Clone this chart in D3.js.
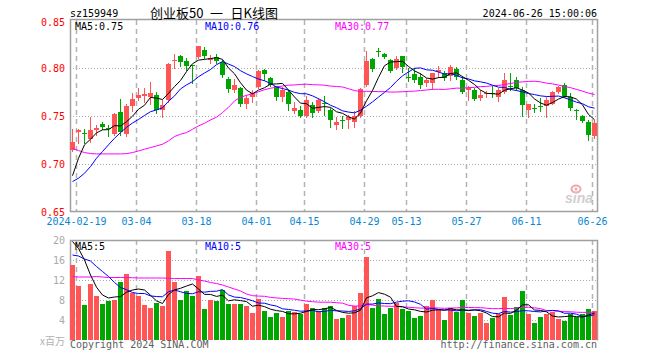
<!DOCTYPE html>
<html><head><meta charset="utf-8">
<script src="https://cdn.jsdelivr.net/npm/d3@7"></script>
<style>body{margin:0;background:#fff}svg{display:block}</style>
</head><body>
<svg id="c" width="660" height="360"></svg>
<script>
// ---- data ----
const symbol = "sz159949";
const titleParts = ["创业板50", "一", "日K线图"];
const stamp = "2024-06-26 15:00:06";
const open  = [.715,.733,.732,.726,.735,.742,.737,.731,.754,.731, .760,.769,.771,.770,.772,.756,.767,.808,.812,.807,
               .803,.811,.819,.808,.811,.806,.789,.777,.779,.762, .770,.780,.798,.790,.781,.770,.775,.755,.756,.750,
               .761,.755,.764,.756,.741,.746,.746,.744,.750,.782, .809,.818,.815,.808,.800,.812,.791,.794,.791,.784,
               .784,.796,.795,.792,.799,.788,.777,.777,.769,.773, .774,.770,.775,.781,.788,.777,.756,.758,.760,.760,
               .763,.775,.782,.770,.756,.750,.744,.729];
const high  = [.736,.736,.736,.749,.741,.744,.741,.753,.768,.762, .774,.779,.779,.785,.775,.767,.805,.815,.814,.810,
               .803,.823,.822,.814,.815,.808,.791,.789,.780,.772, .777,.798,.799,.791,.781,.780,.777,.765,.760,.771,
               .765,.769,.771,.758,.749,.750,.751,.755,.779,.818, .810,.821,.816,.809,.813,.812,.800,.800,.795,.790,
               .795,.802,.797,.803,.801,.792,.781,.779,.777,.776, .781,.779,.795,.795,.791,.780,.763,.762,.769,.770,
               .776,.781,.784,.774,.757,.751,.746,.746];
const low   = [.714,.722,.722,.723,.730,.736,.729,.730,.730,.729, .755,.767,.765,.763,.753,.749,.765,.800,.802,.798,
               .784,.810,.810,.805,.805,.791,.775,.775,.760,.758, .765,.779,.788,.781,.767,.766,.756,.753,.749,.749,
               .749,.754,.751,.739,.736,.737,.738,.739,.749,.781, .797,.812,.810,.796,.799,.796,.786,.785,.779,.781,
               .778,.791,.788,.788,.789,.774,.767,.767,.767,.770, .770,.766,.774,.777,.777,.750,.749,.754,.755,.749,
               .762,.774,.770,.756,.747,.744,.725,.727];
const close = [.723,.735,.731,.735,.738,.739,.736,.752,.733,.760, .768,.772,.773,.774,.756,.761,.804,.808,.806,.802,
               .802,.823,.812,.810,.807,.793,.778,.782,.763,.769, .774,.797,.794,.782,.770,.777,.762,.758,.750,.767,
               .753,.767,.762,.746,.744,.745,.749,.750,.778,.807, .799,.817,.811,.797,.809,.801,.790,.788,.782,.787,
               .795,.798,.790,.801,.791,.775,.779,.768,.772,.774, .773,.777,.788,.780,.779,.761,.762,.757,.759,.767,
               .775,.780,.770,.758,.755,.745,.730,.743];
// volume, millions
const volume = [15.0,10.8,7.0,11.2,8.8,7.2,7.8,8.0,11.6,13.2, 9.4,8.8,7.0,6.4,7.5,6.8,17.8,11.6,8.0,9.8,
                8.8,12.8,6.2,8.0,7.8,10.0,7.2,7.2,7.2,6.8, 5.4,8.2,5.8,4.6,5.4,4.6,5.9,5.6,5.3,7.2,
                6.4,5.8,6.4,6.8,4.2,4.4,5.0,6.8,9.4,16.6, 6.4,8.2,5.2,6.4,7.4,6.2,5.8,4.4,4.8,6.8,
                8.0,6.2,4.0,6.4,5.6,8.0,5.4,4.8,5.4,3.4, 4.4,5.2,8.6,5.0,6.6,9.8,5.2,3.4,4.6,5.2,
                5.6,4.2,3.8,5.2,4.6,5.2,6.2,5.8];
// moving-average values before a full window is visible
const ma5Head  = [.6878,.706,.72,.7258];
const ma10Head = [.6817,.6852,.6904,.6973,.706,.713,.72,.7268,.7327];
const ma30Head = [.7164,.714,.7119,.7109,.7105,.7105,.7105,.7105,.7105,.7108,.7119,.7136,.7154,.7171,.7188,
                  .7206,.7241,.7286,.731,.7327,.7362,.7397,.7424,.7459,.7487,.7536,.7591,.7657,.7695];
const vma5Head  = [19.7,18.3,16,13];
const vma10Head = [17,16.8,16.2,15.8,14.7,13.7,12.7,11.5,10.5];
const vma30Head = [12.67,12.6,12.6,12.6,12.7,12.6,12.5,12.5,12.5,12.5,12.45,12.4,12.4,12.4,12.4,
                   12.4,12.35,12.3,12.3,12.3,12.3,12.0,11.8,11.5,11.3,11.0,10.6,10.2,9.8];
const tickIndex = [1,11,21,31,39,49,56,66,76,87];
const tickLabel = ["2024-02-19","03-04","03-18","04-01","04-15","04-29","05-13","05-27","06-11","06-26"];
const priceTicks = [0.65,0.70,0.75,0.80,0.85];
const volTicks = [0,4,8,12,16,20];

// ---- helpers ----
function ma(arr, n, head){ return arr.map((_,i)=> i < n-1 ? head[i] : d3.mean(arr.slice(i-n+1,i+1))); }
const ma5 = ma(close,5,ma5Head), ma10 = ma(close,10,ma10Head), ma30 = ma(close,30,ma30Head);
const vma5 = ma(volume,5,vma5Head), vma10 = ma(volume,10,vma10Head), vma30 = ma(volume,30,vma30Head);

const RED="#ff5555", GREEN="#00a600", MONO="'DejaVu Sans Mono','Liberation Mono',monospace";
const CJK="'Noto Sans CJK SC',sans-serif";
const svg = d3.select("#c");
const n = close.length;
const x = d3.scaleBand().domain(d3.range(n)).range([69.5,597.5]).paddingInner(1/6).paddingOuter(1/12);
const xl = d3.scaleLinear().domain([0,n]).range([70,598]);
const y = d3.scaleLinear().domain([priceTicks[0], priceTicks[priceTicks.length-1]]).range([212,20]);
const yv = d3.scaleLinear().domain([volTicks[0], volTicks[volTicks.length-1]]).range([340,240]);
const xc = i => x(i) + x.bandwidth()/2;
const isUp = i => close[i] >= open[i];
const pTop = 20, pBot = 212, vTop = 240, vBot = 340, L = 70, R = 597;

// ---- grid ----
const g = svg.append("g");
g.selectAll(".hp").data(priceTicks.slice(1,-1)).join("line")
  .attr("x1",L).attr("x2",R).attr("y1",d=>Math.round(y(d))+0.5).attr("y2",d=>Math.round(y(d))+0.5)
  .attr("stroke","#aaa").attr("stroke-dasharray","1,2");
g.selectAll(".hv").data(volTicks.slice(1,-1)).join("line")
  .attr("x1",L).attr("x2",R).attr("y1",d=>Math.round(yv(d))+0.5).attr("y2",d=>Math.round(yv(d))+0.5)
  .attr("stroke","#aaa").attr("stroke-dasharray","1,2");
[[pTop,pBot],[vTop,vBot]].forEach(([a,b])=>{
  g.append("g").selectAll("line").data(tickIndex).join("line")
   .attr("x1",d=>xl(d)+0.5).attr("x2",d=>xl(d)+0.5).attr("y1",a).attr("y2",b)
   .attr("stroke","#b4b4b4").attr("stroke-width",1.5).attr("stroke-dasharray","5,4");
});

// sina watermark
const wm = svg.append("g");
wm.append("ellipse").attr("cx",576).attr("cy",189).attr("rx",4.5).attr("ry",3.5).attr("fill","none").attr("stroke","#f4a6a6").attr("stroke-width",2);
wm.append("circle").attr("cx",576).attr("cy",189).attr("r",1.5).attr("fill","#f4a6a6");
wm.append("text").attr("x",565).attr("y",203).text("sina")
  .attr("font-family","'Liberation Sans',Arial,sans-serif").attr("font-size",14).attr("font-weight","bold").attr("font-style","italic").attr("fill","#cfcfcf");

// ---- borders ----
svg.append("rect").attr("x",70.5).attr("y",19.5).attr("width",527).attr("height",192)
  .attr("fill","none").attr("stroke","#a0a0a0").attr("stroke-width",1.5);
svg.append("path").attr("d",`M70.5,${vBot+0.5}V240.5H597.5V${vBot+0.5}`)
  .attr("fill","none").attr("stroke","#a0a0a0").attr("stroke-width",1.5);

// ---- candles ----
const cg = svg.append("g");
cg.selectAll("line").data(d3.range(n)).join("line")
  .attr("x1",i=>xc(i)).attr("x2",i=>xc(i))
  .attr("y1",i=>Math.round(y(high[i]))).attr("y2",i=>Math.round(y(low[i]))+1)
  .attr("stroke",i=>isUp(i)?RED:GREEN).attr("stroke-width",1);
cg.selectAll("rect").data(d3.range(n)).join("rect")
  .attr("x",i=>x(i)).attr("width",x.bandwidth())
  .attr("y",i=>Math.round(y(Math.max(open[i],close[i]))))
  .attr("height",i=>Math.max(1,Math.round(y(Math.min(open[i],close[i])))-Math.round(y(Math.max(open[i],close[i])))))
  .attr("fill",i=>isUp(i)?RED:GREEN);

// ---- volume bars ----
svg.append("g").selectAll("rect").data(d3.range(n)).join("rect")
  .attr("x",i=>x(i)).attr("width",x.bandwidth())
  .attr("y",i=>Math.round(yv(volume[i]))).attr("height",i=>vBot-Math.round(yv(volume[i])))
  .attr("fill",i=>isUp(i)?RED:GREEN);

// ---- MA lines ----
const lineP = d3.line().x((d,i)=>xc(i)).y(d=>y(d));
const lineV = d3.line().x((d,i)=>xc(i)).y(d=>yv(d));
[[ma30,"#ff00ff"],[ma10,"#0000ff"],[ma5,"#000"]].forEach(([a,c])=>
  svg.append("path").attr("d",lineP(a)).attr("fill","none").attr("stroke",c).attr("stroke-width",1));
[[vma30,"#ff00ff"],[vma10,"#0000ff"],[vma5,"#000"]].forEach(([a,c])=>
  svg.append("path").attr("d",lineV(a)).attr("fill","none").attr("stroke",c).attr("stroke-width",1));

// ---- axes ----
function styleAxis(sel, color){
  sel.select(".domain").remove();
  sel.selectAll("text").attr("font-family",MONO).attr("font-size",10).attr("fill",color);
}
svg.append("g").attr("transform","translate(70,0)")
  .call(d3.axisLeft(y).tickValues(priceTicks).tickFormat(d3.format(".2f")).tickSize(0).tickPadding(5))
  .call(s=>styleAxis(s,"#f00"))
  .call(s=>s.selectAll(".tick text").attr("dy",d=>d===priceTicks[priceTicks.length-1]?"0.5em":"0.3em"));
svg.append("g").attr("transform","translate(70,0)")
  .call(d3.axisLeft(yv).tickValues(volTicks.slice(1)).tickFormat(d3.format("d")).tickSize(0).tickPadding(5))
  .call(s=>styleAxis(s,"#aaa"));
svg.append("g").attr("transform",`translate(0,${pBot})`)
  .call(d3.axisBottom(xl).tickValues(tickIndex).tickFormat(d=>tickLabel[tickIndex.indexOf(d)]).tickSize(0).tickPadding(6))
  .call(s=>styleAxis(s,"#0a86d2"));

// ---- texts ----
function txt(t,xx,yy,o={}){
  return svg.append("text").attr("x",xx).attr("y",yy).text(t)
   .attr("font-family",o.ff||MONO).attr("font-size",o.fs||10).attr("fill",o.c||"#000")
   .attr("text-anchor",o.a||"start").style("white-space","pre");
}
txt(symbol,70,17);
txt(titleParts[0],150,17.5,{ff:CJK,fs:13});
txt(titleParts[1],210,17.5,{ff:CJK,fs:13});
txt(titleParts[2],230.5,17.5,{ff:CJK,fs:13});
txt(stamp,597,17,{a:"end"});
txt(`MA5:${ma5[n-1].toFixed(2)}`,75,29.5);
txt(`MA10:${ma10[n-1].toFixed(2)}`,205,29.5,{c:"#0000ff"});
txt(`MA30:${ma30[n-1].toFixed(2)}`,335,29.5,{c:"#ff00ff"});
txt(`MA5:${Math.floor(vma5[n-1])}`,75,250);
txt(`MA10:${Math.floor(vma10[n-1])}`,205,250,{c:"#0000ff"});
txt(`MA30:${Math.floor(vma30[n-1])}`,335,250,{c:"#ff00ff"});
txt("x百万",65,345,{a:"end",c:"#b0b0b0",ff:CJK});
txt("Copyright 2024 SINA.COM",70,348,{c:"#606060"});
txt("http://finance.sina.com.cn",597,348,{a:"end",c:"#606060"});
</script>
</body></html>
